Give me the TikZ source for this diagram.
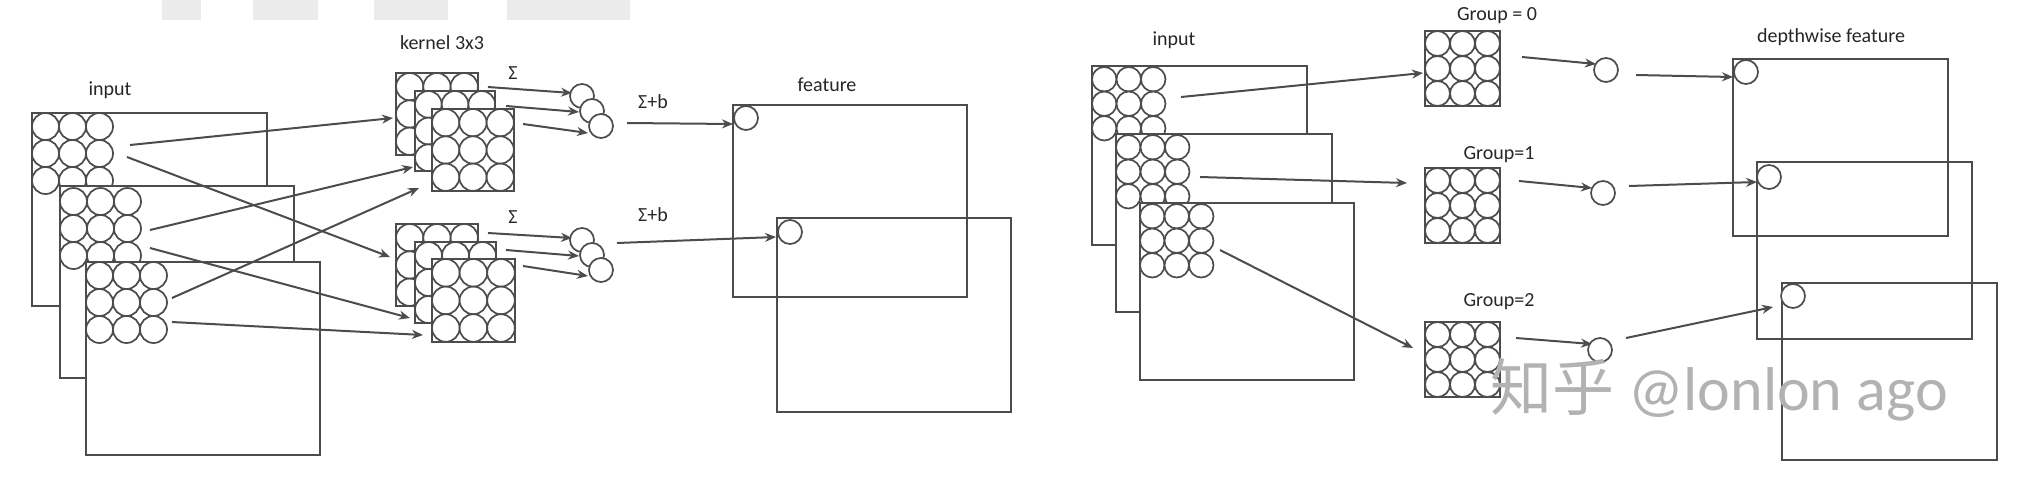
\documentclass[tikz,border=0pt]{standalone}
\usepackage{fontspec}
\setmainfont{Carlito}
\newfontfamily\cjk{Noto Sans CJK SC}
\usetikzlibrary{arrows.meta}
\tikzset{
  ln/.style={draw=black!70, line width=2pt},
  inrect/.style={ln, fill=white},
  outrect/.style={ln},
  arr/.style={draw=black!70, line width=2pt, -{Stealth[length=11pt,width=9pt]}},
  lbl/.style={font=\fontsize{20}{22}\selectfont, text=black!85, inner sep=0pt},
  cir/.style={draw=black!70, line width=1.7pt, fill=white},
}
\newcommand\cgrid[3]{%
  \foreach \i in {0,1,2}{\foreach \j in {0,1,2}{
    \draw[cir] ({#1+#3/2+\i*#3},{#2+#3/2+\j*#3}) circle ({#3/2});}}}
\newcommand\kbox[3]{%
  \draw[ln, fill=white, line width=2.6pt] (#1,#2) rectangle ({#1+3*#3},{#2+3*#3});
  \cgrid{#1}{#2}{#3}}
\begin{document}
\begin{tikzpicture}[x=1pt,y=-1pt]
\useasboundingbox (0,0) rectangle (2030,480);
\foreach \a/\b in {162/201,253/318,374/448,507/630}{\fill[black!8] (\a,0) rectangle (\b,20);}
% ---------- left: standard convolution ----------
\node[lbl] (inL) at (110,90) {input};
\draw[inrect] (32,113) rectangle (267,306);  \cgrid{32}{113}{27}
\draw[inrect] (60,186) rectangle (294,378);  \cgrid{60}{188}{27}
\draw[inrect] (86,262) rectangle (320,455);  \cgrid{86}{262}{27}
\node[lbl] (kl) at (442,43) {kernel 3x3};
\kbox{396}{73}{27.3}\kbox{415}{91}{26.7}\kbox{432}{109}{27.3}
\kbox{396}{224}{27.3}\kbox{415}{242}{27}\kbox{432}{259}{27.6}
\draw[arr] (130,145) -- (393,118);
\draw[arr] (127,157) -- (390,257);
\draw[arr] (150,230) -- (413,167);
\draw[arr] (150,248) -- (410,318);
\draw[arr] (172,298) -- (419,188);
\draw[arr] (172,322) -- (423,335);
\node[lbl] (s1) at (513,73) {Σ};
\node[lbl] (s2) at (513,217) {Σ};
\draw[arr] (488,87) -- (572,93);
\draw[arr] (506,106) -- (579,112);
\draw[arr] (523,124) -- (588,133);
\draw[cir] (582,96) circle (12);\draw[cir] (592,111) circle (12);\draw[cir] (601,126) circle (12);
\draw[arr] (488,233) -- (572,238);
\draw[arr] (506,250) -- (579,256);
\draw[arr] (523,266) -- (588,276);
\draw[cir] (582,240) circle (12);\draw[cir] (592,255) circle (12);\draw[cir] (601,270) circle (12);
\node[lbl] (sb1) at (653,102) {Σ+b};
\node[lbl] (sb2) at (653,215) {Σ+b};
\draw[arr] (627,123) -- (733,124);
\draw[arr] (617,243) -- (776,237);
\node[lbl] (fl) at (827,85) {feature};
\draw[outrect] (733,105) rectangle (967,297);
\draw[outrect] (777,218) rectangle (1011,412);
\draw[cir] (746,118) circle (12);
\draw[cir] (790,232) circle (12);
% ---------- right: depthwise ----------
\node[lbl] (inR) at (1174,40) {input};
\draw[inrect] (1092,66) rectangle (1307,245);   \cgrid{1092}{67}{24.5}
\draw[inrect] (1116,134) rectangle (1332,312);  \cgrid{1116}{135}{24.5}
\draw[inrect] (1140,203) rectangle (1354,380);  \cgrid{1140}{204}{24.5}
\node[lbl] (g0) at (1497,16) {Group = 0};
\node[lbl] (g1) at (1499,155) {Group=1};
\node[lbl] (g2) at (1499,302) {Group=2};
\kbox{1425}{31}{25}\kbox{1425}{168}{25}\kbox{1425}{322}{25}
\draw[arr] (1181,97) -- (1423,73);
\draw[arr] (1200,177) -- (1407,183);
\draw[arr] (1220,250) -- (1413,348);
\draw[arr] (1522,57) -- (1596,64);
\draw[arr] (1519,181) -- (1592,188);
\draw[arr] (1516,338) -- (1592,344);
\draw[cir] (1606,70) circle (12);
\draw[cir] (1603,193) circle (12);
\draw[cir] (1600,350) circle (12);
\draw[arr] (1636,75) -- (1733,77);
\draw[arr] (1629,186) -- (1757,182);
\draw[arr] (1626,338) -- (1773,307);
\node[lbl] (dl) at (1831,37) {depthwise feature};
\draw[outrect] (1733,59) rectangle (1948,236);
\draw[outrect] (1757,162) rectangle (1972,339);
\draw[outrect] (1782,283) rectangle (1997,460);
\draw[cir] (1746,72) circle (12);
\draw[cir] (1769,177) circle (12);
\draw[cir] (1793,296) circle (12);
% watermark
\node[font=\fontsize{62}{64}\selectfont, text=black!30, anchor=west, inner sep=0pt] (wm) at (1490,390) {{\cjk 知乎} @lonlon ago};
\end{tikzpicture}
\end{document}
